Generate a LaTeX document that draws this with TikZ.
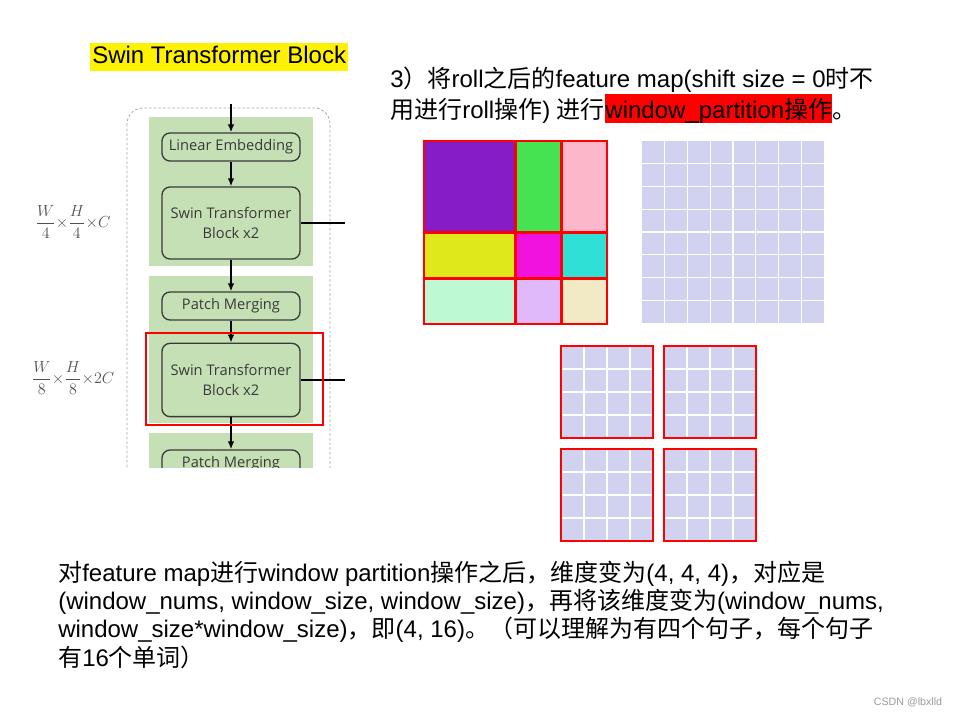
\documentclass[tikz,border=0pt]{standalone}
\usepackage{fontspec}
\usetikzlibrary{arrows.meta}
\setmainfont{Liberation Sans}
\newfontfamily\cjk{Noto Sans CJK SC}
\newfontfamily\segoe{Open Sans}
\newcommand{\cn}[1]{{\cjk #1}}
\definecolor{stgreen}{HTML}{C5E0B4}
\definecolor{blkgray}{HTML}{3A3A3A}
\definecolor{dimgray}{HTML}{505050}
\definecolor{wmgray}{HTML}{9A9A9A}
\definecolor{cpurple}{HTML}{861CC6}
\definecolor{cgreen}{HTML}{45E251}
\definecolor{cpink}{HTML}{FCB8CA}
\definecolor{cyellow}{HTML}{DFE81B}
\definecolor{cmagenta}{HTML}{F013E0}
\definecolor{ccyan}{HTML}{2FE0D6}
\definecolor{cmint}{HTML}{BDF9D3}
\definecolor{clilac}{HTML}{DFB9F9}
\definecolor{cbeige}{HTML}{F2EAC4}
\definecolor{clav}{HTML}{D0D2F0}

\begin{document}
\begin{tikzpicture}[x=0.75pt, y=-0.75pt, >={Latex[length=6pt,width=5pt]},
    every node/.style={font=\fontsize{18}{21}\selectfont},
    txt/.style={anchor=base west, inner sep=0pt},
    blk/.style={draw=blkgray, line width=1pt, rounded corners=6pt, fill=stgreen,
        font=\segoe\fontsize{11}{15.5}\selectfont, text=blkgray, align=center,
        minimum width=103.5pt, inner sep=0pt},
    dims/.style={text=dimgray, font=\fontsize{13}{15}\selectfont},
    flow/.style={->, line width=1.2pt},
    winline/.style={red, line width=2.2pt},
    cellline/.style={white, line width=1pt}]
    \useasboundingbox (0,0) rectangle (958,716);
    \node[fill=yellow, anchor=north west, inner xsep=1.5pt, inner ysep=1.5pt,
        text height=14pt, text depth=4pt] (title) at (90,43) {Swin Transformer Block};
    \begin{scope}
        \clip (25,105) rectangle (345,468);
        \draw[gray!70, line width=0.6pt, dash pattern=on 2pt off 1.5pt, rounded corners=12pt]
            (127,108) rectangle (330,540);
        \fill[stgreen] (149,117) rectangle (313,266);
        \fill[stgreen] (149,276) rectangle (313,423);
        \fill[stgreen] (149,433) rectangle (313,540);
        \coordinate (top) at (231,100);
        \node[blk, minimum height=21pt] (le) at (231,147) {Linear Embedding};
        \node[blk, minimum height=54pt] (stb1) at (231,223) {Swin Transformer\\Block x2};
        \node[blk, minimum height=21pt] (pm1) at (231,306) {Patch Merging};
        \node[blk, minimum height=55pt] (stb2) at (231,380) {Swin Transformer\\Block x2};
        \node[blk, minimum height=21pt] (pm2) at (231,464) {Patch Merging};
        \coordinate (out1) at (345,223);
        \coordinate (out2) at (345,380);
        \draw[flow] (top) -- (le);
        \draw[flow] (le) -- (stb1);
        \draw[flow] (stb1) -- (pm1);
        \draw[flow] (pm1) -- (stb2);
        \draw[flow] (stb2) -- (pm2);
        \draw[line width=1.2pt] (stb1.east) -- (out1);
        \draw[line width=1.2pt] (stb2.east) -- (out2);
        \node[dims] (d1) at (73,222) {$\displaystyle\frac{W}{4}{\times}\frac{H}{4}{\times}C$};
        \node[dims] (d2) at (73,378) {$\displaystyle\frac{W}{8}{\times}\frac{H}{8}{\times}2C$};
    \end{scope}
    \draw[winline] (146,333) rectangle (323,425);

    \node[txt] (l1) at (390,88) {3\cn{）将}roll\cn{之后的}feature map(shift size = 0\cn{时不}};
    \node[txt] (l2a) at (390,119) {\cn{用进行}roll\cn{操作}) \cn{进行}};
    \node[txt, fill=red, text height=18.5pt, text depth=3pt] (l2b) at (l2a.base east)
        {window\_partition\cn{操作}};
    \node[txt] (l2c) at (l2b.base east) {\cn{。}};

    \foreach \xa/\xb/\ya/\yb/\cl in {0/4/0/4/cpurple, 4/6/0/4/cgreen, 6/8/0/4/cpink,
        0/4/4/6/cyellow, 4/6/4/6/cmagenta, 6/8/4/6/ccyan,
        0/4/6/8/cmint, 4/6/6/8/clilac, 6/8/6/8/cbeige}
        \fill[\cl] ({424+22.875*\xa},{141+22.875*\ya}) rectangle ({424+22.875*\xb},{141+22.875*\yb});
    \foreach \k in {4,6} {
        \draw[winline] ({424+22.875*\k},141) -- ({424+22.875*\k},324);
        \draw[winline] (424,{141+22.875*\k}) -- (607,{141+22.875*\k});
    }
    \draw[winline] (424,141) rectangle (607,324);

    \fill[clav] (642,141) rectangle (824,323);
    \foreach \k in {1,...,7} {
        \draw[cellline] ({642+22.75*\k},141) -- ++(0,182);
        \draw[cellline] (642,{141+22.75*\k}) -- ++(182,0);
    }

    \foreach \wx/\wy in {561/346, 664/346, 561/449, 664/449} {
        \fill[clav] (\wx,\wy) rectangle ++(92,92);
        \foreach \k in {1,2,3} {
            \draw[cellline] ({\wx+23*\k},\wy) -- ++(0,92);
            \draw[cellline] (\wx,{\wy+23*\k}) -- ++(92,0);
        }
        \draw[winline] (\wx,\wy) rectangle ++(92,92);
    }

    \node[txt] (b1) at (58,582) {\cn{对}feature map\cn{进行}window partition\cn{操作之后，维度变为}(4, 4, 4)\cn{，对应是}};
    \node[txt] (b2) at (58,610) {(window\_nums, window\_size, window\_size)\cn{，再将该维度变为}(window\_nums,};
    \node[txt] (b3) at (58,638) {window\_size*window\_size)\cn{，即}(4, 16)\cn{。（可以理解为有四个句子，每个句子}};
    \node[txt] (b4) at (58,667) {\cn{有}16\cn{个单词）}};

    \node[font=\fontsize{8}{10}\selectfont, text=wmgray] (wm) at (908,702) {CSDN @lbxlld};
\end{tikzpicture}
\end{document}
